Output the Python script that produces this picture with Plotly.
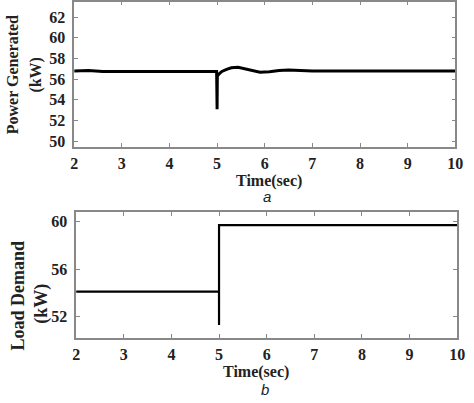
import plotly.graph_objects as go

# Panel a: power generated (kW) vs time (sec)
time_a = [2.0, 2.3, 2.6, 3.0, 3.5, 4.0, 4.5, 4.99, 5.0, 5.005, 5.05, 5.1, 5.2, 5.3, 5.44, 5.55, 5.7, 5.9, 6.1, 6.3, 6.5, 6.7, 7.0, 7.5, 8.0, 9.0, 10.0]
power = [56.8, 56.85, 56.75, 56.75, 56.8, 56.75, 56.75, 56.75, 53.1, 56.3, 56.55, 56.75, 56.95, 57.1, 57.15, 57.05, 56.85, 56.68, 56.72, 56.85, 56.9, 56.85, 56.8, 56.8, 56.8, 56.8, 56.8]

# Panel b: load demand (kW) vs time (sec)
time_b = [2.0, 4.999, 5.0, 5.0, 5.001, 10.0]
load = [54.1, 54.1, 51.3, 59.7, 59.7, 59.7]

x_ticks = [2, 3, 4, 5, 6, 7, 8, 9, 10]
ya_ticks = [50, 52, 54, 56, 58, 60, 62]
yb_ticks = [52, 56, 60]

W, H = 474, 403
def px(x):
    return x / W
def py(y):
    return (H - y) / H

def bold(vals):
    return [f"<b>{v}</b>" for v in vals]

fig = go.Figure()
fig.add_trace(go.Scatter(x=time_a, y=power, mode="lines", line=dict(color="black", width=3), xaxis="x", yaxis="y", showlegend=False))
fig.add_trace(go.Scatter(x=time_b, y=load, mode="lines", line=dict(color="black", width=2.2), xaxis="x2", yaxis="y2", showlegend=False))

tickfont = dict(family="Liberation Serif", size=16, color="#222")
axis_common = dict(showgrid=False, zeroline=False, showline=True, linecolor="#888", linewidth=1.5,
                   mirror="ticks", ticks="inside", ticklen=4, tickcolor="#888", tickfont=tickfont)

fig.update_layout(
    width=W, height=H, margin=dict(l=0, r=0, t=0, b=0),
    paper_bgcolor="white", plot_bgcolor="white",
    xaxis=dict(domain=[px(72), px(463)], range=[2, 10], tickvals=x_ticks, ticktext=bold(x_ticks), anchor="y", ticklabelstandoff=1, **axis_common),
    yaxis=dict(domain=[py(148), py(1.7)], range=[49.45, 63.5], tickvals=ya_ticks, ticktext=bold(ya_ticks), anchor="x", ticklabelstandoff=4, **axis_common),
    xaxis2=dict(domain=[px(74), px(465)], range=[2, 10], tickvals=x_ticks, ticktext=bold(x_ticks), anchor="y2", ticklabelstandoff=1, **axis_common),
    yaxis2=dict(domain=[py(340.7), py(214)], range=[50.18, 60.78], tickvals=yb_ticks, ticktext=bold(yb_ticks), anchor="x2", ticklabelstandoff=4, **axis_common),
)

titlefont = dict(family="Liberation Serif", size=16, color="#222")
ann = [
    dict(text="<b>Power Generated</b>", x=px(9), y=py(75), textangle=-90, font=titlefont),
    dict(text="<b>(kW)</b>", x=px(33), y=py(75), textangle=-90, font=titlefont),
    dict(text="<b>Time(sec)</b>", x=px(272), y=py(182), font=dict(family="Liberation Serif", size=16, color="#222")),
    dict(text="a", x=px(270), y=py(198), font=dict(family="Liberation Sans", size=15, color="#222")),
    dict(text="<b>Load Demand</b>", x=px(14), y=py(298), textangle=-90, font=dict(family="Liberation Serif", size=18, color="#222")),
    dict(text="<b>(kW)</b>", x=px(39), y=py(306), textangle=-90, font=dict(family="Liberation Serif", size=18, color="#222")),
    dict(text="<b>Time(sec)</b>", x=px(259), y=py(375), font=dict(family="Liberation Serif", size=16, color="#222")),
    dict(text="b", x=px(268), y=py(392), font=dict(family="Liberation Sans", size=15, color="#222")),
]
for a in ann:
    a.update(xref="paper", yref="paper", showarrow=False, xanchor="center", yanchor="middle")
    if a["text"] in ("a", "b"):
        a["text"] = "<i>" + a["text"] + "</i>"
fig.update_layout(annotations=ann)

fig.write_html("out.html")
